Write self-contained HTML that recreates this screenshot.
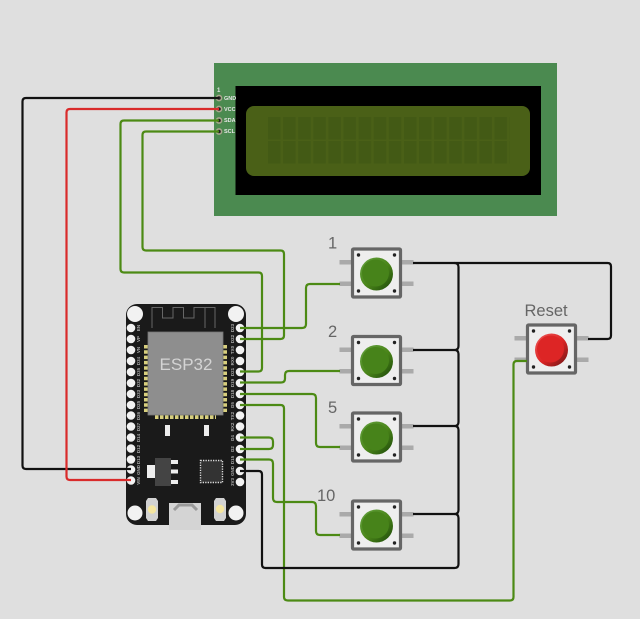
<!DOCTYPE html>
<html><head><meta charset="utf-8"><style>html,body{margin:0;padding:0;background:#dfdfdf;width:640px;height:619px;overflow:hidden}svg{display:block}text{font-family:"Liberation Sans",sans-serif}</style></head><body>
<svg width="640" height="619" viewBox="0 0 640 619" xmlns="http://www.w3.org/2000/svg">
<defs>
<linearGradient id="gg" x1="0.15" y1="0.15" x2="0.85" y2="0.85"><stop offset="0" stop-color="#5d9a35"/><stop offset="0.55" stop-color="#4a8519"/><stop offset="1" stop-color="#2a5a0e"/></linearGradient>
<linearGradient id="rg" x1="0.15" y1="0.15" x2="0.85" y2="0.85"><stop offset="0" stop-color="#e84a4a"/><stop offset="0.55" stop-color="#dc2424"/><stop offset="1" stop-color="#8e1a1a"/></linearGradient>
<g id="btn">
<rect x="-37" y="-13" width="14" height="4.500" fill="#aaa"/><rect x="-37" y="8.500" width="14" height="4.500" fill="#aaa"/>
<rect x="23" y="-13" width="14" height="4.500" fill="#aaa"/><rect x="23" y="8.500" width="14" height="4.500" fill="#aaa"/>
<rect x="-24" y="-24" width="48" height="48" fill="#eeeeee" stroke="#666" stroke-width="3.200" rx="1"/>
<circle cx="-18" cy="-18" r="1.700" fill="#222"/><circle cx="18" cy="-18" r="1.700" fill="#222"/><circle cx="-18" cy="18" r="1.700" fill="#222"/><circle cx="18" cy="18" r="1.700" fill="#222"/>
</g>
<g id="g"><circle r="16.500" fill="url(#gg)"/><circle cx="-1" cy="-1" r="13.500" fill="#47831a"/></g>
<g id="r"><circle r="16.500" fill="url(#rg)"/><circle cx="-1" cy="-1" r="13.500" fill="#dd2525"/></g>
<pattern id="cells" x="268" y="117" width="15.100" height="24" patternUnits="userSpaceOnUse"><rect x="0" y="0" width="12.600" height="22.500" fill="#435a15"/></pattern>
</defs>

<!-- LCD -->
<rect x="214" y="63" width="343" height="153" fill="#4b8a50"/>
<rect x="235.500" y="86" width="305.500" height="109" fill="#000"/>
<rect x="246" y="106" width="284" height="70" rx="8" fill="#4a6017"/>
<rect x="268" y="117" width="242" height="47" fill="url(#cells)"/>
<g fill="#e6e6e6" font-size="5.500" font-weight="bold"><text x="217" y="92" font-size="6">1</text><text x="224" y="100">GND</text><text x="224" y="111">VCC</text><text x="224" y="122">SDA</text><text x="224" y="133">SCL</text></g>
<g fill="#222" stroke="#a8a88c" stroke-width="1.600"><circle cx="219" cy="98" r="2.600"/><circle cx="219" cy="109" r="2.600"/><circle cx="219" cy="120.500" r="2.600"/><circle cx="219" cy="131.500" r="2.600"/></g>

<!-- ESP32 -->
<rect x="126" y="304" width="120" height="221" rx="11" fill="#1a1a1a"/>
<g fill="#f2f2f2"><circle cx="135" cy="314" r="8"/><circle cx="236" cy="314" r="8"/><circle cx="135" cy="513" r="7.500"/><circle cx="236" cy="513" r="7.500"/></g>
<path d="M152 328V307.500H162.500V318H173V307.500H183.500V318H194V307.500H215V328M205 307.500V328" fill="none" stroke="#666" stroke-width="1"/>
<g stroke="#d8cf7d" fill="none">
<path d="M146 345V412M225 345V412" stroke-width="4" stroke-dasharray="3.500 1.800"/>
<path d="M155 417H216" stroke-width="4" stroke-dasharray="3.500 1.500"/>
</g>
<rect x="148" y="332" width="75" height="83" fill="#8e8e8e" stroke="#777" stroke-width="0.800"/>
<text x="186" y="370" font-size="17" fill="#d4d4d4" text-anchor="middle">ESP32</text>
<g fill="#f2f2f2">
<circle cx="131" cy="328" r="4.300"/><circle cx="131" cy="339" r="4.300"/><circle cx="131" cy="350" r="4.300"/><circle cx="131" cy="361" r="4.300"/><circle cx="131" cy="372" r="4.300"/><circle cx="131" cy="383" r="4.300"/><circle cx="131" cy="394" r="4.300"/><circle cx="131" cy="405" r="4.300"/><circle cx="131" cy="415.500" r="4.300"/><circle cx="131" cy="426.500" r="4.300"/><circle cx="131" cy="437.500" r="4.300"/><circle cx="131" cy="448.500" r="4.300"/><circle cx="131" cy="459.500" r="4.300"/><circle cx="131" cy="469.500" r="4.300"/><circle cx="131" cy="480.500" r="4.300"/>
<circle cx="240" cy="328" r="4.300"/><circle cx="240" cy="339" r="4.300"/><circle cx="240" cy="350" r="4.300"/><circle cx="240" cy="361" r="4.300"/><circle cx="240" cy="372" r="4.300"/><circle cx="240" cy="383" r="4.300"/><circle cx="240" cy="394" r="4.300"/><circle cx="240" cy="405" r="4.300"/><circle cx="240" cy="415.500" r="4.300"/><circle cx="240" cy="426.500" r="4.300"/><circle cx="240" cy="437.500" r="4.300"/><circle cx="240" cy="449" r="4.300"/><circle cx="240" cy="460" r="4.300"/><circle cx="240" cy="471" r="4.300"/><circle cx="240" cy="482" r="4.300"/>
</g>
<g fill="#a8a8a8" font-size="4.500" font-weight="bold" text-anchor="middle">
<text transform="translate(140 328) rotate(-90)">EN</text><text transform="translate(140 339) rotate(-90)">VP</text><text transform="translate(140 350) rotate(-90)">VN</text><text transform="translate(140 361) rotate(-90)">D34</text><text transform="translate(140 372) rotate(-90)">D35</text><text transform="translate(140 383) rotate(-90)">D32</text><text transform="translate(140 394) rotate(-90)">D33</text><text transform="translate(140 405) rotate(-90)">D25</text><text transform="translate(140 416) rotate(-90)">D26</text><text transform="translate(140 427) rotate(-90)">D27</text><text transform="translate(140 438) rotate(-90)">D14</text><text transform="translate(140 449) rotate(-90)">D12</text><text transform="translate(140 460) rotate(-90)">D13</text><text transform="translate(140 470) rotate(-90)">GND</text><text transform="translate(140 481) rotate(-90)">VIN</text>
<text transform="translate(234 328) rotate(-90)">D23</text><text transform="translate(234 339) rotate(-90)">D22</text><text transform="translate(234 350) rotate(-90)">TX0</text><text transform="translate(234 361) rotate(-90)">RX0</text><text transform="translate(234 372) rotate(-90)">D21</text><text transform="translate(234 383) rotate(-90)">D19</text><text transform="translate(234 394) rotate(-90)">D18</text><text transform="translate(234 405) rotate(-90)">D5</text><text transform="translate(234 416) rotate(-90)">TX2</text><text transform="translate(234 427) rotate(-90)">RX2</text><text transform="translate(234 438) rotate(-90)">D4</text><text transform="translate(234 449) rotate(-90)">D2</text><text transform="translate(234 460) rotate(-90)">D15</text><text transform="translate(234 471) rotate(-90)">GND</text><text transform="translate(234 482) rotate(-90)">3V3</text>
</g>
<rect x="165" y="425" width="5" height="11" fill="#ececec"/><rect x="204" y="425" width="5" height="11" fill="#ececec"/>
<rect x="155" y="458" width="16" height="28" fill="#444"/><rect x="147" y="465" width="8" height="13" fill="#eee"/>
<g fill="#eee"><rect x="171" y="460" width="7" height="4"/><rect x="171" y="469.500" width="7" height="4"/><rect x="171" y="480" width="7" height="4"/></g>
<rect x="200.500" y="460.500" width="22" height="22" fill="#333"/>
<rect x="200.500" y="460.500" width="22" height="22" fill="none" stroke="#ddd" stroke-width="1.400" stroke-dasharray="1.300 1.200"/>
<g fill="#d2d2d2"><path d="M148 498H156L158 501V518L156 521H148L146 518V501Z"/><path d="M216 498H224L226 501V518L224 521H216L214 518V501Z"/></g>
<circle cx="152" cy="509.500" r="4.200" fill="#f5e6a0"/><circle cx="220" cy="509" r="4.200" fill="#f5e6a0"/>
<rect x="169" y="503" width="32" height="27" fill="#d4d4d4"/>
<path d="M174 510L179 505H192L197 510" fill="none" stroke="#9a9a9a" stroke-width="3"/>

<!-- Buttons -->
<use href="#btn" x="376.500" y="273"/><use href="#g" x="376.500" y="274"/>
<use href="#btn" x="376.500" y="360.500"/><use href="#g" x="376.500" y="361.500"/>
<use href="#btn" x="376.500" y="437"/><use href="#g" x="376.500" y="438"/>
<use href="#btn" x="376.500" y="525"/><use href="#g" x="376.500" y="526"/>
<use href="#btn" x="551.500" y="349"/><use href="#r" x="551.500" y="350"/>

<g fill="#666" font-size="16.500"><text x="328" y="248.500">1</text><text x="328" y="337">2</text><text x="328" y="413">5</text><text x="317" y="501">10</text><text x="524.500" y="316">Reset</text></g>

<!-- Wires -->
<g fill="none" stroke-width="2.200" stroke-linejoin="round">
<g stroke="#4c8a14">
<path d="M219 120.500H124Q120.500 120.500 120.500 124V269Q120.500 272.500 124 272.500H258.500Q262 272.500 262 276V368Q262 371.500 258.500 371.500H240"/>
<path d="M219 131.500H146Q142.500 131.500 142.500 135V247Q142.500 250.500 146 250.500H280.500Q284 250.500 284 254V335.500Q284 339 280.500 339H240"/>
<path d="M340 284H310Q306 284 306 288V324Q306 328 302 328H240"/>
<path d="M240 382.500H281Q285 382.500 285 378.500V375Q285 371 289 371H340"/>
<path d="M240 394H312Q316 394 316 398V443Q316 447 320 447H340"/>
<path d="M240 405H280.500Q284 405 284 408.500V597Q284 600.500 288 600.500H510Q513.500 600.500 513.500 597V364.500Q513.500 361 517 361H527"/>
<path d="M240 437.500H269Q273 437.500 273 441.500V445Q273 449 269 449H240"/>
<path d="M240 459.500H269Q273 459.500 273 463.500V498Q273 502 277 502H312Q316 502 316 506V531Q316 535 320 535H340"/>
</g>
<g stroke="#111">
<path d="M219 98H26Q22.500 98 22.500 101.500V465.500Q22.500 469 26 469H131"/>
<path d="M240 471H258.500Q262 471 262 474.500V564.500Q262 568 265.500 568H454.500Q458.500 568 458.500 564V518Q458.500 514 454.500 514H413"/>
<path d="M413 263H607.500Q611 263 611 266.500V335.500Q611 339 607.500 339H588"/>
<path d="M454.500 263Q458.500 263 458.500 267V346Q458.500 350 454.500 350H413M454.500 350Q458.500 350 458.500 354V422Q458.500 426 454.500 426H413M454.500 426Q458.500 426 458.500 430V510Q458.500 514 454.500 514"/>
</g>
<path stroke="#d92b2b" d="M219 109H70Q66.500 109 66.500 112.500V476.500Q66.500 480 70 480H131"/>
</g>
</svg>
</body></html>
